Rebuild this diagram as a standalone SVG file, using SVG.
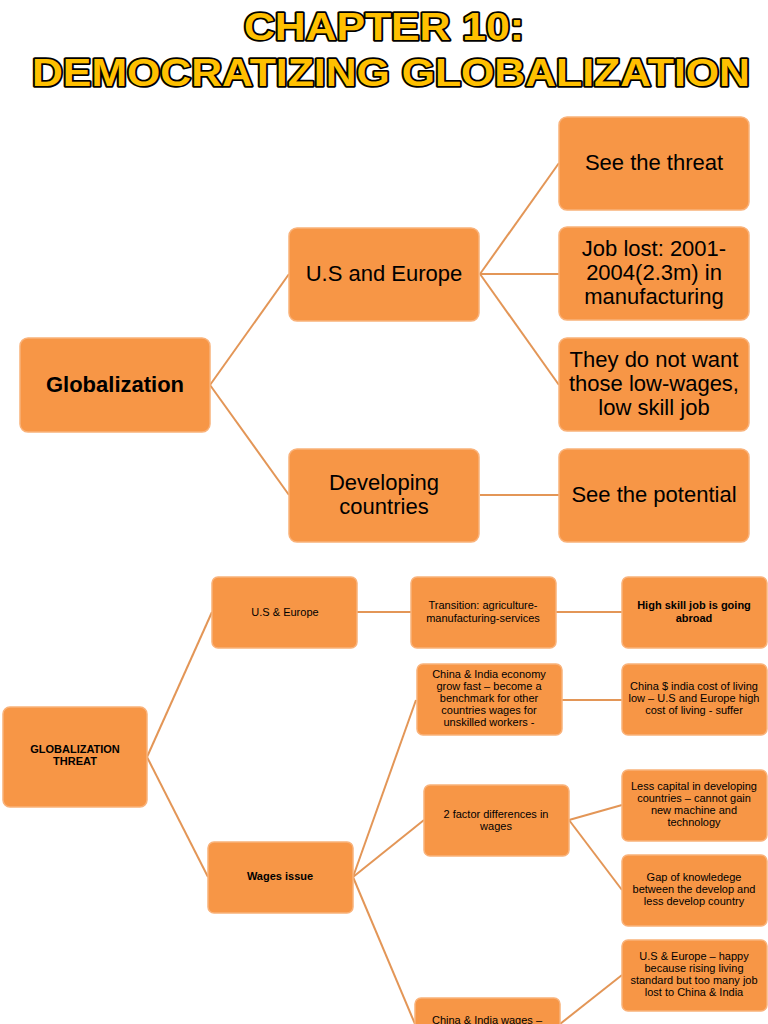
<svg xmlns="http://www.w3.org/2000/svg" width="768" height="1024" viewBox="0 0 768 1024">
<style>
.n rect{fill:#F79646;stroke:#F9B27A;stroke-width:1.5}
.t{font-family:"Liberation Sans",Arial,sans-serif;fill:#000;text-anchor:middle}
.big{font-size:22px}
.sm{font-size:11px}
.ttl{font-family:"Liberation Sans",Arial,sans-serif;font-weight:bold;font-size:38px;fill:#FFC000;stroke:#000;stroke-width:3.5;stroke-linejoin:round;text-anchor:middle;paint-order:stroke}
#conn line{stroke:#E39657;stroke-width:2}
</style>
<rect width="768" height="1024" fill="#fff"/>
<text class="ttl" x="384" y="40" textLength="280" lengthAdjust="spacingAndGlyphs">CHAPTER 10:</text>
<text class="ttl" x="391" y="86" textLength="718" lengthAdjust="spacingAndGlyphs">DEMOCRATIZING GLOBALIZATION</text>
<g id="conn">
<line x1="210" y1="385" x2="289" y2="274"/><line x1="210" y1="385" x2="289" y2="495"/>
<line x1="480" y1="274" x2="559" y2="163"/><line x1="480" y1="274" x2="559" y2="274"/><line x1="480" y1="274" x2="559" y2="385"/>
<line x1="480" y1="495" x2="559" y2="495"/>
<line x1="147" y1="757" x2="212" y2="612"/><line x1="147" y1="757" x2="208" y2="877"/>
<line x1="357" y1="612" x2="411" y2="612"/><line x1="556" y1="612" x2="622" y2="612"/>
<line x1="353" y1="877" x2="416" y2="700"/><line x1="353" y1="877" x2="424" y2="820"/><line x1="353" y1="877" x2="415" y2="1024"/>
<line x1="562" y1="700" x2="622" y2="700"/>
<line x1="569" y1="820" x2="622" y2="805"/><line x1="569" y1="820" x2="622" y2="890"/>
<line x1="560" y1="1024" x2="622" y2="975"/>
</g>
<g id="glob" class="n"><rect x="20" y="338" width="190" height="94" rx="8"/><text class="t big" x="115" y="392" font-weight="bold">Globalization</text></g>
<g id="use" class="n"><rect x="289" y="228" width="190" height="93" rx="8"/><text class="t big" x="384" y="281">U.S and Europe</text></g>
<g id="dev" class="n"><rect x="289" y="449" width="190" height="93" rx="8"/><text class="t big" x="384" y="490">Developing</text><text class="t big" x="384" y="514">countries</text></g>
<g id="threat" class="n"><rect x="559" y="117" width="190" height="93" rx="8"/><text class="t big" x="654" y="170">See the threat</text></g>
<g id="job" class="n"><rect x="559" y="227" width="190" height="93" rx="8"/><text class="t big" x="654" y="256">Job lost: 2001-</text><text class="t big" x="654" y="280">2004(2.3m) in</text><text class="t big" x="654" y="304">manufacturing</text></g>
<g id="want" class="n"><rect x="559" y="338" width="190" height="93" rx="8"/><text class="t big" x="654" y="367">They do not want</text><text class="t big" x="654" y="391">those low-wages,</text><text class="t big" x="654" y="415">low skill job</text></g>
<g id="pot" class="n"><rect x="559" y="449" width="190" height="93" rx="8"/><text class="t big" x="654" y="502">See the potential</text></g>
<g id="gthreat" class="n"><rect x="3" y="707" width="144" height="100" rx="7"/><text class="t sm" x="75" y="753" font-weight="bold">GLOBALIZATION</text><text class="t sm" x="75" y="765" font-weight="bold">THREAT</text></g>
<g id="use2" class="n"><rect x="212" y="577" width="145" height="71" rx="6"/><text class="t sm" x="285" y="616">U.S  &amp; Europe</text></g>
<g id="wage" class="n"><rect x="208" y="842" width="145" height="71" rx="6"/><text class="t sm" x="280" y="880" font-weight="bold">Wages issue</text></g>
<g id="trans" class="n"><rect x="411" y="577" width="145" height="71" rx="6"/><text class="t sm" x="483" y="609">Transition: agriculture-</text><text class="t sm" x="483" y="622">manufacturing-services</text></g>
<g id="high" class="n"><rect x="622" y="577" width="145" height="71" rx="6"/><text class="t sm" x="694" y="609" font-weight="bold">High skill job is going</text><text class="t sm" x="694" y="622" font-weight="bold">abroad</text></g>
<g id="ci" class="n"><rect x="417" y="664" width="145" height="71" rx="6"/><text class="t sm" x="489" y="678">China &amp; India economy</text><text class="t sm" x="489" y="690">grow fast – become a</text><text class="t sm" x="489" y="702">benchmark for other</text><text class="t sm" x="489" y="714">countries wages for</text><text class="t sm" x="489" y="726">unskilled workers -</text></g>
<g id="cost" class="n"><rect x="622" y="664" width="145" height="71" rx="6"/><text class="t sm" x="694" y="690">China $ india cost of living</text><text class="t sm" x="694" y="702">low – U.S and Europe high</text><text class="t sm" x="694" y="714">cost of living - suffer</text></g>
<g id="fac" class="n"><rect x="424" y="785" width="145" height="71" rx="6"/><text class="t sm" x="496" y="818">2 factor differences in</text><text class="t sm" x="496" y="830">wages</text></g>
<g id="cap" class="n"><rect x="622" y="770" width="145" height="71" rx="6"/><text class="t sm" x="694" y="790">Less capital in developing</text><text class="t sm" x="694" y="802">countries – cannot gain</text><text class="t sm" x="694" y="814">new machine and</text><text class="t sm" x="694" y="826">technology</text></g>
<g id="gap" class="n"><rect x="622" y="855" width="145" height="71" rx="6"/><text class="t sm" x="694" y="881">Gap of knowledege</text><text class="t sm" x="694" y="893">between the develop and</text><text class="t sm" x="694" y="905">less develop country</text></g>
<g id="happy" class="n"><rect x="622" y="940" width="145" height="71" rx="6"/><text class="t sm" x="694" y="960">U.S &amp; Europe – happy</text><text class="t sm" x="694" y="972">because rising living</text><text class="t sm" x="694" y="984">standard but too many job</text><text class="t sm" x="694" y="996">lost to China &amp; India</text></g>
<g id="ciw" class="n"><rect x="415" y="998" width="145" height="71" rx="6"/><text class="t sm" x="487" y="1024">China &amp; India wages –</text></g>
</svg>
